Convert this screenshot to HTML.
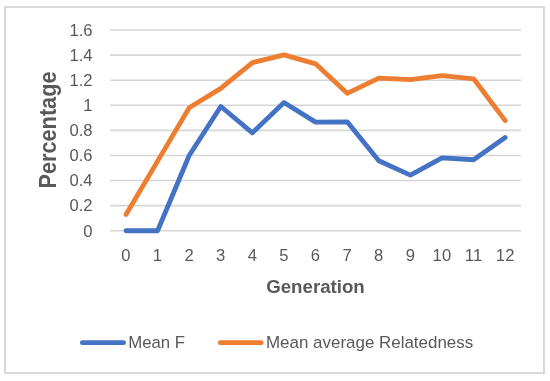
<!DOCTYPE html>
<html><head><meta charset="utf-8"><style>
html,body{margin:0;padding:0;background:#fff;width:550px;height:381px;overflow:hidden}
svg{display:block}
text{font-family:"Liberation Sans",Arial,sans-serif;fill:#595959}
</style></head><body>
<svg width="550" height="381" viewBox="0 0 550 381">
<rect x="0" y="0" width="550" height="381" fill="#fff"/>
<rect x="5" y="7" width="539" height="366" fill="#fff" stroke="#d9d9d9" stroke-width="2"/>
<g stroke="#d6d6d6" stroke-width="1.6">
<line x1="110.2" y1="230.75" x2="521.0" y2="230.75"/>
<line x1="110.2" y1="205.66" x2="521.0" y2="205.66"/>
<line x1="110.2" y1="180.56" x2="521.0" y2="180.56"/>
<line x1="110.2" y1="155.47" x2="521.0" y2="155.47"/>
<line x1="110.2" y1="130.37" x2="521.0" y2="130.37"/>
<line x1="110.2" y1="105.28" x2="521.0" y2="105.28"/>
<line x1="110.2" y1="80.19" x2="521.0" y2="80.19"/>
<line x1="110.2" y1="55.09" x2="521.0" y2="55.09"/>
<line x1="110.2" y1="30.00" x2="521.0" y2="30.00"/>
</g>
<g font-size="16.6" text-anchor="end">
<text x="92.6" y="236.55">0</text>
<text x="92.6" y="211.46">0.2</text>
<text x="92.6" y="186.36">0.4</text>
<text x="92.6" y="161.27">0.6</text>
<text x="92.6" y="136.17">0.8</text>
<text x="92.6" y="111.08">1</text>
<text x="92.6" y="85.99">1.2</text>
<text x="92.6" y="60.89">1.4</text>
<text x="92.6" y="35.80">1.6</text>
</g>
<g font-size="16.6" text-anchor="middle" letter-spacing="0.3">
<text x="126.00" y="261.2">0</text>
<text x="157.60" y="261.2">1</text>
<text x="189.20" y="261.2">2</text>
<text x="220.80" y="261.2">3</text>
<text x="252.40" y="261.2">4</text>
<text x="284.00" y="261.2">5</text>
<text x="315.60" y="261.2">6</text>
<text x="347.20" y="261.2">7</text>
<text x="378.80" y="261.2">8</text>
<text x="410.40" y="261.2">9</text>
<text x="442.00" y="261.2">10</text>
<text x="473.60" y="261.2">11</text>
<text x="505.20" y="261.2">12</text>
</g>
<text x="315.5" y="292.6" font-size="18.7" font-weight="bold" text-anchor="middle" textLength="98.6" lengthAdjust="spacingAndGlyphs">Generation</text>
<text transform="translate(55.8,130) rotate(-90)" x="0" y="0" font-size="23.5" font-weight="bold" text-anchor="middle" textLength="117" lengthAdjust="spacingAndGlyphs">Percentage</text>
<g fill="none" stroke-width="4.8" stroke-linejoin="round" stroke-linecap="round">
<polyline stroke="#ed7d31" points="126.00,214.44 157.60,161.11 189.20,107.79 220.80,88.34 252.40,62.62 284.00,54.84 315.60,63.87 347.20,93.36 378.80,78.05 410.40,79.56 442.00,75.67 473.60,78.81 505.20,120.59"/>
<polyline stroke="#4472c4" points="126.00,230.75 157.60,230.75 189.20,155.47 220.80,106.53 252.40,132.88 284.00,102.52 315.60,122.09 347.20,121.84 378.80,160.74 410.40,175.17 442.00,157.85 473.60,159.73 505.20,137.53"/>
<line stroke="#4472c4" x1="82.3" y1="342.7" x2="123.6" y2="342.7"/>
<line stroke="#ed7d31" x1="220.3" y1="342.7" x2="261.2" y2="342.7"/>
</g>
<text x="128.2" y="348.4" font-size="16.3" textLength="56.8" lengthAdjust="spacingAndGlyphs">Mean F</text>
<text x="266" y="348.4" font-size="16.3" textLength="207.2" lengthAdjust="spacingAndGlyphs">Mean average Relatedness</text>
</svg>
</body></html>
